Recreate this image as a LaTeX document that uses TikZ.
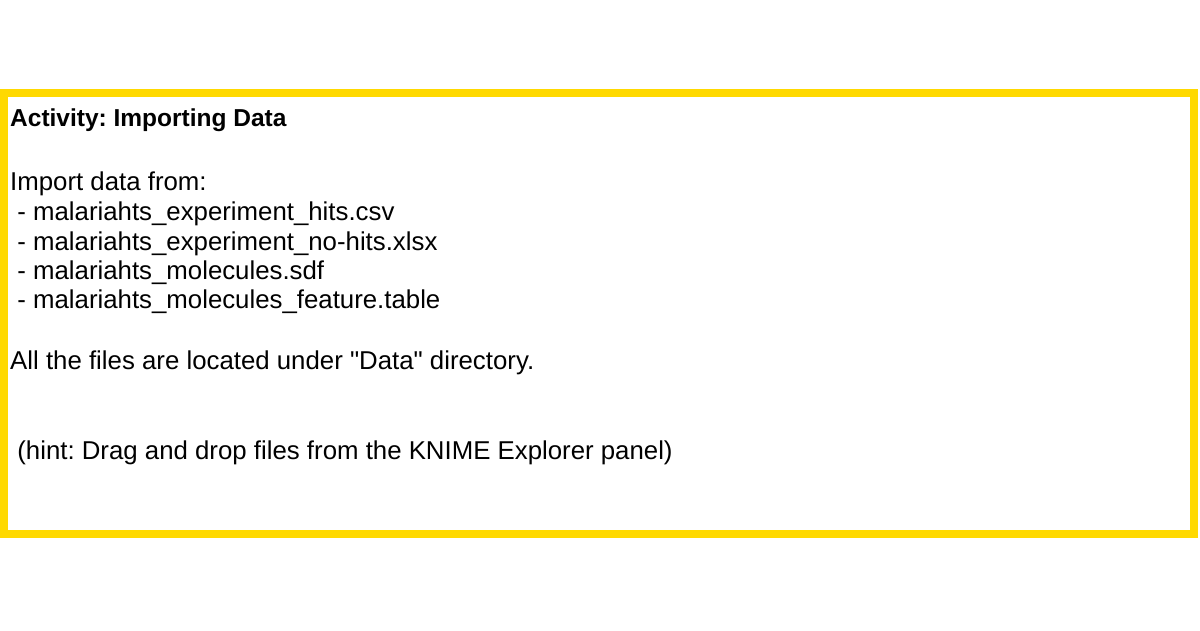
\documentclass[tikz,border=0pt]{standalone}
\usepackage{fontspec}
\setmainfont{Liberation Sans}
\newfontfamily\qf{Liberation Sans}
\begin{document}
\frenchspacing
\begin{tikzpicture}[x=1pt,y=-1pt,
  txt/.style={anchor=base west,inner sep=0pt,font=\fontsize{25.8}{28}\selectfont}]
\useasboundingbox (0,0) rectangle (1200,630);
\fill[white] (0,0) rectangle (1200,630);
\draw[line width=8pt,color={rgb,255:red,255;green,217;blue,0}] (4,93) rectangle (1194,534);
\node[txt,font=\fontsize{24.5}{28}\selectfont\bfseries] (t) at (10,126) {Activity: Importing Data};
\node[txt] (a) at (10,190) {Import data from:};
\node[txt] (b) at (10,220) {\ - malariahts\_experiment\_hits.csv};
\node[txt] (c) at (10,250) {\ - malariahts\_experiment\_no-hits.xlsx};
\node[txt] (d) at (10,279) {\ - malariahts\_molecules.sdf};
\node[txt] (e) at (10,308) {\ - malariahts\_molecules\_feature.table};
\node[txt] (f) at (10,369) {All the files are located under {\qf"}Data{\qf"} directory.};
\node[txt] (g) at (10,459) {\ (hint: Drag and drop files from the KNIME Explorer panel)};
\end{tikzpicture}
\end{document}
